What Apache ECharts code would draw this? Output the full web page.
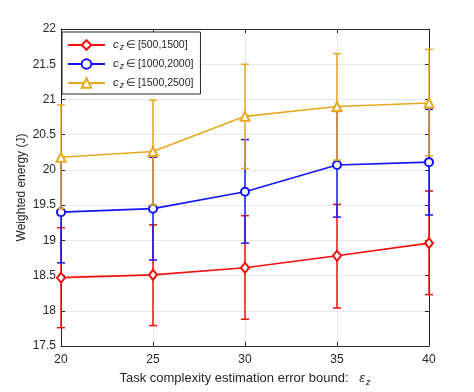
<!DOCTYPE html>
<html>
<head>
<meta charset="utf-8">
<script src="https://cdn.jsdelivr.net/npm/echarts@6/dist/echarts.min.js"></script>
<style>
html,body{margin:0;padding:0;background:#fff;}
#main{width:474px;height:392px;}
</style>
</head>
<body>
<div id="main"></div>
<script>
// x values (error bound)
var xVals=[20,25,30,35,40];
var names=['[500,1500]','[1000,2000]','[1500,2500]'];
var colors=['#f50f0f','#1414fa','#e6a91c'];
var symbols=['emptyDiamond','emptyCircle','emptyTriangle'];
var symSizes=[[8,10],8,9];

// mean values
var red=[18.47,18.51,18.61,18.78,18.96];
var blue=[19.40,19.45,19.69,20.07,20.11];
var yellow=[20.18,20.26,20.76,20.90,20.95];
// error bar ends
var redLow=[17.76,17.79,17.88,18.04,18.23];
var redHigh=[19.18,19.22,19.35,19.51,19.70];
var blueLow=[18.68,18.72,18.96,19.33,19.36];
var blueHigh=[20.13,20.18,20.43,20.83,20.86];
var yellowLow=[19.45,19.50,20.02,20.14,20.20];
var yellowHigh=[20.92,20.99,21.50,21.65,21.71];

var means=[red,blue,yellow];
var lows=[redLow,blueLow,yellowLow];
var highs=[redHigh,blueHigh,yellowHigh];

var txt='#262626';
var font='Liberation Sans';

function zip(a){
	var out=[];
	for(var i=0;i<xVals.length;i++){out.push([xVals[i],a[i]]);}
	return out;
}
function zipErr(lo,hi){
	var out=[];
	for(var i=0;i<xVals.length;i++){out.push([xVals[i],lo[i],hi[i]]);}
	return out;
}

var series=[];
var legendNames=[];
for(var k=0;k<3;k++){
	var nm='c'+k;
	legendNames.push(nm);
	// error bars
	(function(col,idx){
		series.push({
			type:'custom',
			name:'err'+idx,
			z:10+idx*2,
			data:zipErr(lows[idx],highs[idx]),
			encode:{x:0,y:[1,2]},
			renderItem:function(params,api){
				var x=api.value(0);
				var p1=api.coord([x,api.value(1)]);
				var p2=api.coord([x,api.value(2)]);
				var w=4;
				var st={stroke:col,lineWidth:1.5};
				return {type:'group',children:[
					{type:'line',shape:{x1:p1[0],y1:p1[1],x2:p2[0],y2:p2[1]},style:st},
					{type:'line',shape:{x1:p1[0]-w,y1:p1[1],x2:p1[0]+w,y2:p1[1]},style:st},
					{type:'line',shape:{x1:p2[0]-w,y1:p2[1],x2:p2[0]+w,y2:p2[1]},style:st}
				]};
			}
		});
	})(colors[k],k);
	series.push({
		type:'line',
		name:nm,
		z:11+k*2,
		data:zip(means[k]),
		symbol:symbols[k],
		symbolSize:symSizes[k],
		showAllSymbol:true,
		lineStyle:{color:colors[k],width:1.6},
		itemStyle:{color:colors[k],borderWidth:1.5},
		animation:false
	});
}

var myChart=echarts.init(document.getElementById('main'),null,{renderer:'canvas'});
var option={
	backgroundColor:'#fff',
	animation:false,
	textStyle:{fontFamily:font},
	grid:{left:61,right:45,top:29,bottom:45,containLabel:false},
	legend:{
		data:legendNames,
		orient:'vertical',
		left:62,
		top:32,
		itemWidth:37,
		itemHeight:12,
		itemGap:3,
		padding:[4,7,4,5],
		backgroundColor:'#fff',
		borderColor:txt,
		borderWidth:1,
		borderRadius:0,
		formatter:function(n){
			var i=parseInt(n.substr(1));
			return '{i|c}{s|z}{e|\u2208}{t|'+names[i]+'}';
		},
		textStyle:{
			color:txt,fontFamily:font,fontSize:11,
			rich:{
				i:{fontStyle:'italic',fontSize:11.5,color:txt,fontFamily:font,lineHeight:14,padding:[0,0,0,3]},
				s:{fontStyle:'italic',fontSize:8.5,color:txt,fontFamily:font,lineHeight:14,verticalAlign:'bottom',padding:[7,0,0,1]},
				e:{fontSize:11,color:txt,fontFamily:font,lineHeight:14,padding:[0,2,0,2]},
				t:{fontSize:10.5,color:txt,fontFamily:font,lineHeight:14}
			}
		}
	},
	xAxis:[{
		type:'value',min:20,max:40,interval:5,
		name:'Task complexity estimation error bound:   {e|\u03b5}{s|z}',
		nameLocation:'middle',nameGap:24,
		nameTextStyle:{color:txt,fontSize:13,fontFamily:font,
			rich:{e:{fontStyle:'italic',fontSize:13,color:txt},s:{fontStyle:'italic',fontSize:9,color:txt,padding:[8,0,0,1]}}},
		axisLine:{lineStyle:{color:txt,width:1}},
		axisTick:{inside:true,length:4,lineStyle:{color:txt}},
		axisLabel:{color:txt,fontSize:12,margin:8,fontFamily:font},
		splitLine:{show:true,lineStyle:{color:'#e8e8e8',width:1}}
	},{
		type:'value',min:20,max:40,interval:5,position:'top',
		axisLine:{show:true,lineStyle:{color:txt,width:1}},
		axisTick:{inside:true,length:4,lineStyle:{color:txt}},
		axisLabel:{show:false},splitLine:{show:false}
	}],
	yAxis:[{
		type:'value',min:17.5,max:22,interval:0.5,
		name:'Weighted energy (J)',
		nameLocation:'middle',nameGap:33,
		nameMoveOverlap:false,
		nameTextStyle:{color:txt,fontSize:12,fontFamily:font},
		axisLine:{show:true,lineStyle:{color:txt,width:1}},
		axisTick:{inside:true,length:4,lineStyle:{color:txt}},
		axisLabel:{color:txt,fontSize:12,margin:5,fontFamily:font},
		splitLine:{show:true,lineStyle:{color:'#e8e8e8',width:1}}
	},{
		type:'value',min:17.5,max:22,interval:0.5,position:'right',
		axisLine:{show:true,lineStyle:{color:txt,width:1}},
		axisTick:{inside:true,length:4,lineStyle:{color:txt}},
		axisLabel:{show:false},splitLine:{show:false}
	}],
	series:series
};
myChart.setOption(option);
</script>
</body>
</html>
